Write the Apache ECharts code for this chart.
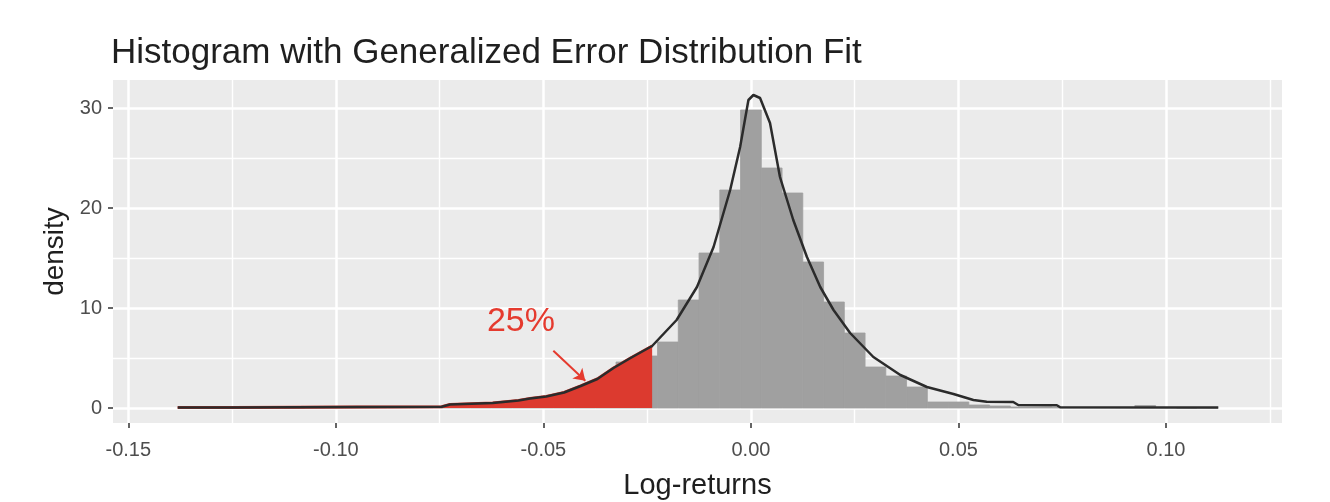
<!DOCTYPE html>
<html>
<head>
<meta charset="utf-8">
<script src="https://cdn.jsdelivr.net/npm/echarts@6/dist/echarts.min.js"></script>
<style>
html,body{margin:0;padding:0;background:#ffffff;}
#chart{width:1330px;height:502px;}
</style>
</head>
<body>
<div id="chart"></div>
<script>
// ---- data ----
const titleText = 'Histogram with Generalized Error Distribution Fit';
const xAxisTitle = 'Log-returns';
const yAxisTitle = 'density';

const xMajorTicks = [-0.15, -0.10, -0.05, 0.00, 0.05, 0.10];
const xMinorTicks = [-0.125, -0.075, -0.025, 0.025, 0.075, 0.125];
const yMajorTicks = [0, 10, 20, 30];
const yMinorTicks = [5, 15, 25];
const xRange = [-0.15369, 0.12795];
const yRange = [-1.5, 32.8];

const binWidth = 0.005;
const binCenters = [-0.135,-0.130,-0.125,-0.120,-0.115,-0.110,-0.105,-0.100,-0.095,-0.090,-0.085,-0.080,-0.075,-0.070,-0.065,-0.060,-0.055,-0.050,-0.045,-0.040,-0.035,-0.030,-0.025,-0.020,-0.015,-0.010,-0.005,0.000,0.005,0.010,0.015,0.020,0.025,0.030,0.035,0.040,0.045,0.050,0.055,0.060,0.065,0.070,0.075,0.080,0.085,0.090,0.095,0.100,0.105,0.110];
const binDensity = [0.1,0,0.1,0,0.1,0,0.1,0.1,0.1,0.1,0.1,0.1,0.1,0.3,0.4,0.5,0.7,0.9,1.3,1.9,2.6,4.6,5.2,6.6,10.8,15.5,21.8,29.8,24.0,21.5,14.6,10.6,7.5,4.1,3.2,2.1,0.6,0.6,0.3,0.2,0.1,0.1,0.05,0.05,0.05,0.05,0.25,0.05,0,0.05];

const fitX = [-0.1381,-0.125,-0.110,-0.095,-0.0745,-0.0725,-0.0622,-0.0560,-0.0532,-0.0493,-0.0450,-0.0410,-0.0370,-0.0331,-0.0290,-0.0238,-0.0179,-0.0130,-0.0090,-0.0050,-0.0026,-0.0006,0.0006,0.0022,0.0046,0.0070,0.0102,0.0135,0.0167,0.0199,0.0239,0.0295,0.0360,0.0424,0.0488,0.0536,0.0568,0.0632,0.0644,0.0737,0.0745,0.1126];
const fitY = [0.05,0.06,0.08,0.10,0.12,0.35,0.5,0.75,0.95,1.15,1.55,2.2,2.9,4.0,5.0,6.2,8.8,12.1,16.1,21.8,26.1,30.8,31.3,31.0,28.5,23.1,18.8,15.1,12.1,9.8,7.5,5.1,3.3,2.1,1.4,0.8,0.63,0.6,0.3,0.28,0.07,0.05];
const tailCutoff = -0.0238;

const annotText = '25%';
const annotTextAt = [-0.0554, 8.6];
const arrowFrom = [-0.0476, 5.73];
const arrowTo = [-0.0399, 2.73];

// ---- build series data ----
const histData = binCenters.map((c, i) => [c, binDensity[i]]);
const fitData = fitX.map((x, i) => [x, fitY[i]]);
const tailData = fitData.filter(p => p[0] <= tailCutoff + 1e-9);

const FONT = 'Liberation Sans, Arial, Helvetica, sans-serif';
const chart = echarts.init(document.getElementById('chart'), null, {renderer: 'canvas'});

const fmt = v => Number(v).toFixed(2);

const option = {
  backgroundColor: '#ffffff',
  animation: false,
  title: {
    text: titleText,
    left: 111, top: 36, padding: 0,
    textStyle: {fontFamily: FONT, fontSize: 35, fontWeight: 'normal', color: '#1f1f1f'}
  },
  grid: {left: 113, right: 48, top: 80, bottom: 79, outerBoundsMode: 'none', containLabel: false,
         show: true, backgroundColor: '#ebebeb', borderWidth: 0},
  xAxis: [
    {
      type: 'value', min: xRange[0], max: xRange[1],
      name: xAxisTitle, nameLocation: 'middle', nameGap: 48,
      nameTextStyle: {fontFamily: FONT, fontSize: 29, color: '#1f1f1f'},
      axisLine: {show: false, onZero: false},
      axisTick: {show: true, length: 5, customValues: xMajorTicks, lineStyle: {color: '#333333', width: 1.5}},
      axisLabel: {show: true, customValues: xMajorTicks, formatter: fmt, margin: 17, fontFamily: FONT, fontSize: 20, color: '#4d4d4d'},
      splitLine: {show: true, lineStyle: {color: '#ffffff', width: 2.5}}
    },
    {
      type: 'value', min: xRange[0], max: xRange[1], position: 'bottom',
      axisLine: {show: false, onZero: false},
      axisTick: {show: false, customValues: xMinorTicks},
      axisLabel: {show: false, customValues: xMinorTicks},
      splitLine: {show: true, lineStyle: {color: '#ffffff', width: 1.4}}
    }
  ],
  yAxis: [
    {
      type: 'value', min: yRange[0], max: yRange[1],
      name: yAxisTitle, nameLocation: 'middle', nameGap: 37, nameRotate: 90,
      nameTextStyle: {fontFamily: FONT, fontSize: 28, color: '#1f1f1f'},
      axisLine: {show: false, onZero: false},
      axisTick: {show: true, length: 5, customValues: yMajorTicks, lineStyle: {color: '#333333', width: 1.5}},
      axisLabel: {show: true, customValues: yMajorTicks, margin: 11, fontFamily: FONT, fontSize: 20, color: '#4d4d4d'},
      splitLine: {show: true, lineStyle: {color: '#ffffff', width: 2.5}}
    },
    {
      type: 'value', min: yRange[0], max: yRange[1], position: 'left',
      axisLine: {show: false, onZero: false},
      axisTick: {show: false, customValues: yMinorTicks},
      axisLabel: {show: false, customValues: yMinorTicks},
      splitLine: {show: true, lineStyle: {color: '#ffffff', width: 1.4}}
    }
  ],
  series: [
    {
      type: 'custom', name: 'hist', xAxisIndex: 0, yAxisIndex: 0, z: 2,
      data: histData,
      renderItem: function (params, api) {
        const c = api.value(0), h = api.value(1);
        const p0 = api.coord([c - binWidth / 2, h]);
        const p1 = api.coord([c + binWidth / 2, 0]);
        return {type: 'rect', shape: {x: p0[0], y: p0[1], width: p1[0] - p0[0], height: p1[1] - p0[1]},
                style: {fill: '#a0a0a0', stroke: '#a0a0a0', lineWidth: 0.8}};
      }
    },
    {
      type: 'line', name: 'tail', xAxisIndex: 0, yAxisIndex: 0, z: 3,
      data: tailData, showSymbol: false, symbol: 'none',
      lineStyle: {color: '#dc3a2f', width: 3},
      areaStyle: {color: '#dc3a2f', opacity: 1}
    },
    {
      type: 'line', name: 'fit', xAxisIndex: 0, yAxisIndex: 0, z: 4,
      data: fitData, showSymbol: false, symbol: 'none',
      lineStyle: {color: '#2b2b2b', width: 2.5},
      markLine: {
        silent: true, symbol: ['none', 'arrow'], symbolSize: 11,
        lineStyle: {color: '#e53a2e', width: 2, type: 'solid'},
        label: {show: false},
        data: [[{coord: arrowFrom}, {coord: arrowTo}]]
      },
      markPoint: {
        silent: true, symbol: 'circle', symbolSize: 0,
        label: {show: true, formatter: annotText, position: 'inside', fontFamily: FONT, fontSize: 34, color: '#e53a2e'},
        data: [{coord: annotTextAt}]
      }
    }
  ]
};
chart.setOption(option);
</script>
</body>
</html>
